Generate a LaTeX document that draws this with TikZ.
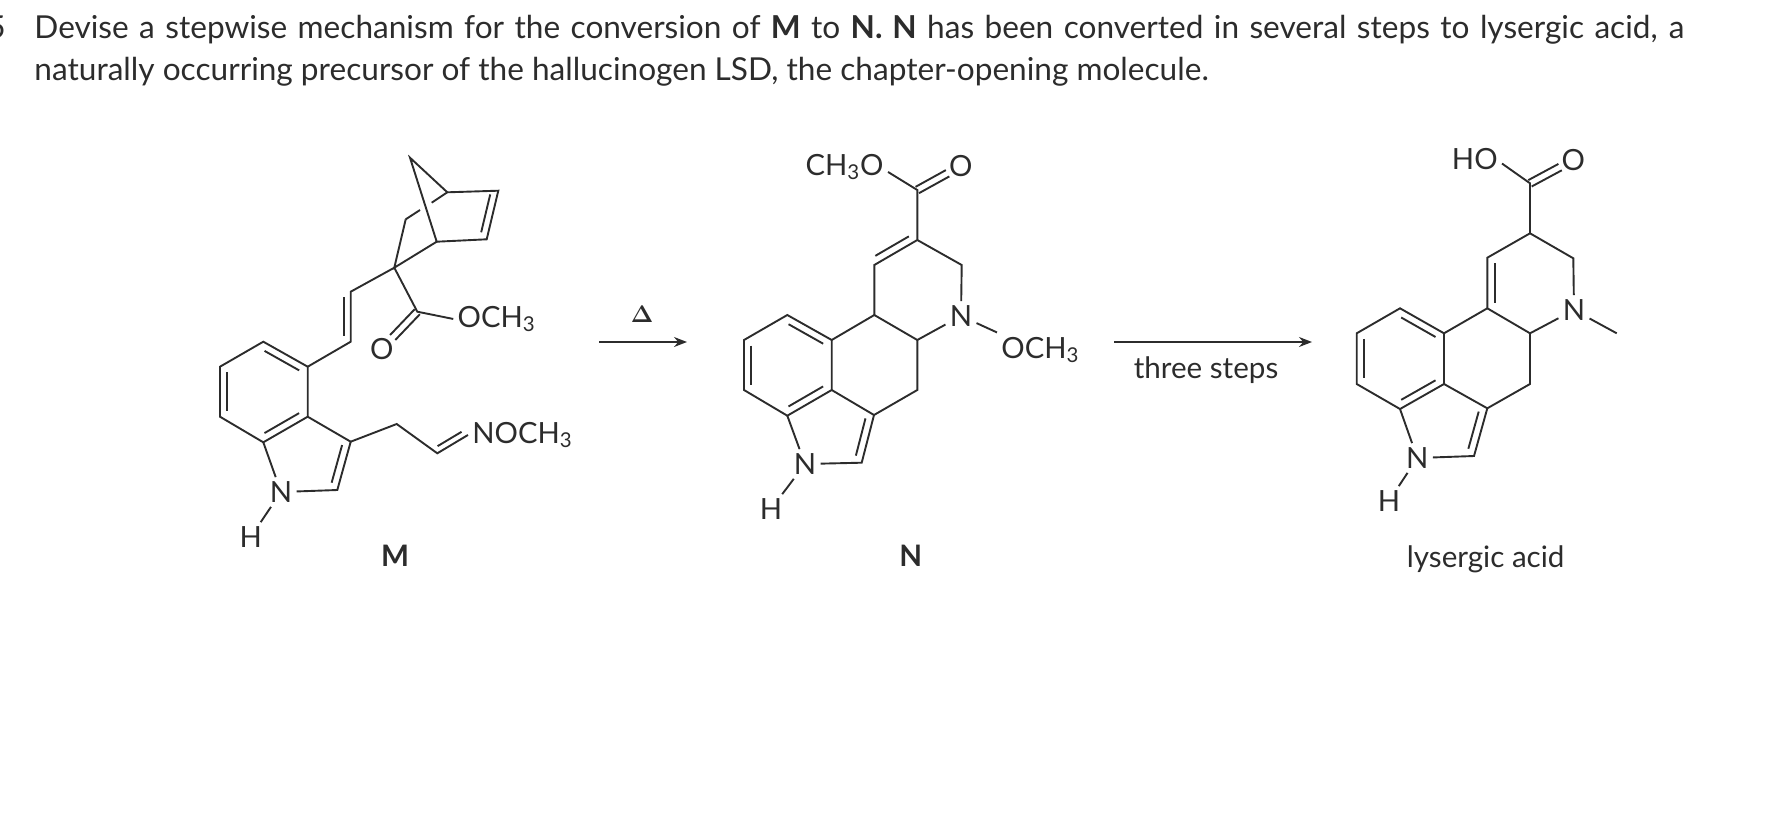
\documentclass[tikz,border=0pt]{standalone}
\usepackage{fontspec}
\usepackage{amsmath}
\setmainfont{Lato}
\usetikzlibrary{calc,arrows.meta}
\definecolor{inkgray}{HTML}{2C2C2C}
\newcommand{\innerbond}[3]{\draw [bond] ($($(#1)!.11!(#2)$)!#3!90:(#2)$) -- ($($(#1)!.89!(#2)$)!#3!90:(#2)$);}
\newcommand{\twobond}[3]{
\draw [bond,shorten >=#3] ($(#1)!1.8pt!90:(#2)$) -- ($(#2)!1.8pt!-90:(#1)$);
\draw [bond,shorten >=#3] ($(#1)!1.8pt!-90:(#2)$) -- ($(#2)!1.8pt!90:(#1)$);}
\tikzset{
bond/.style={draw=inkgray,line width=0.95pt},
atom/.style={inner sep=2pt,text=inkgray,font=\fontsize{14.6}{16}\selectfont},
label/.style={inner sep=0pt,text=inkgray,font=\fontsize{14.8}{16}\selectfont},
rxn/.style={draw=inkgray,line width=0.7pt,-{Stealth[length=6.5pt,width=5pt]}},
}
\begin{document}
\begin{tikzpicture}[x=0.5pt,y=-0.5pt]
\useasboundingbox (0,0) rectangle (1766,814);
\tikzset{every node/.append style={inner sep=0pt}}
% question text
\node [label,anchor=base east] (qnum) at (6,38) {\fontsize{15.8}{20}\selectfont 5};
\node [label,anchor=base west] (qone) at (34,38) {\fontsize{15.8}{20}\selectfont\hbox to 825pt{Devise a stepwise mechanism for the conversion of \textbf{M} to \textbf{N. N} has been converted in several steps to lysergic acid, a}};
\node [label,anchor=base west] (qtwo) at (34,80) {\fontsize{15.8}{20}\selectfont naturally occurring precursor of the hallucinogen LSD, the chapter-opening molecule.};
% molecule M
\coordinate (ma1) at (410,157.7);
\coordinate (ma2) at (447.3,192.3);
\coordinate (ma3) at (498.3,190.7);
\coordinate (ma4) at (486.7,239.3);
\coordinate (ma5) at (436.7,241.7);
\coordinate (ma6) at (394.3,267.7);
\coordinate (ma7) at (405.7,219.3);
\coordinate (mgapa) at (420,210);
\coordinate (mgapb) at (431.7,202.7);
\coordinate (mv1) at (350.7,291.7);
\coordinate (mv2) at (350.7,341.7);
\coordinate (mc) at (417.3,311.7);
\coordinate (mr1) at (307.7,366.7);
\coordinate (mr2) at (263.3,341.7);
\coordinate (mr3) at (220,366.7);
\coordinate (mr4) at (220,416.7);
\coordinate (mr5) at (263.3,442.3);
\coordinate (mr6) at (307.7,416.7);
\coordinate (mp3) at (350.7,441.7);
\coordinate (mp2) at (337.3,490);
\coordinate (mch2) at (396.7,424);
\coordinate (mch) at (437.3,453.3);
\node [atom] (mo) at (381.7,349) {O};
\node [atom,anchor=base west] (moch) at (453.3,327) {OCH\textsubscript{3}};
\node [atom,anchor=base west] (mnoch) at (468,443) {NOCH\textsubscript{3}};
\node [atom] (mn) at (281,492) {N};
\node [atom] (mh) at (250.7,537) {H};
\node [label] (mlabel) at (395,556) {\textbf{M}};
\draw [bond] (ma7) -- (mgapa);
\draw [bond] (mgapb) -- (ma2) -- (ma1) -- (ma5) -- (ma6) -- (ma7);
\draw [bond] (ma2) -- (ma3) -- (ma4) -- (ma5);
\innerbond{ma3}{ma4}{-3.5pt}
\draw [bond] (ma6) -- (mv1) -- (mv2) -- (mr1);
\innerbond{mv1}{mv2}{-3.5pt}
\draw [bond] (ma6) -- (mc) -- (moch.west);
\twobond{mc}{mo}{8pt}
\draw [bond] (mr1) -- (mr2) -- (mr3) -- (mr4) -- (mr5) -- (mr6) -- cycle;
\innerbond{mr1}{mr2}{3.7pt}
\innerbond{mr3}{mr4}{3.7pt}
\innerbond{mr5}{mr6}{3.7pt}
\draw [bond] (mr6) -- (mp3) -- (mp2) -- (mn) -- (mr5);
\innerbond{mp3}{mp2}{-3.7pt}
\draw [bond] (mn) -- (mh);
\draw [bond] (mp3) -- (mch2) -- (mch) -- (mnoch.west);
\innerbond{mch}{mnoch.west}{3pt}
% first arrow
\coordinate (aone) at (599,342);
\coordinate (bone) at (687,342);
\draw [rxn] (aone) -- (bone);
\node [label] (heat) at (642,314) {\fontsize{13}{16}\selectfont $\boldsymbol{\Delta}$};
% molecule N
\coordinate (nc) at (917.3,190);
\coordinate (nb1) at (917.3,240);
\coordinate (nb2) at (874.3,265);
\coordinate (nb3) at (874.3,315);
\coordinate (nb4) at (917.3,340);
\coordinate (nb5) at (961.7,265);
\coordinate (nr1) at (831.7,340);
\coordinate (nr2) at (787.3,315);
\coordinate (nr3) at (744,340);
\coordinate (nr4) at (744,390);
\coordinate (nr5) at (787.3,415.7);
\coordinate (nr6) at (831.7,390);
\coordinate (np3) at (874,415);
\coordinate (np2) at (861.7,462.7);
\coordinate (nch2) at (917.3,390);
\node [atom,anchor=base east] (nmeo) at (888,175) {CH\textsubscript{3}O};
\node [atom] (no) at (960.7,166) {O};
\node [atom] (nn) at (961,316) {N};
\node [atom,anchor=base west] (noch) at (997,358) {OCH\textsubscript{3}};
\node [atom] (nnh) at (805,464) {N};
\node [atom] (nh) at (771,509) {H};
\node [label] (nlabel) at (910.7,556) {\textbf{N}};
\draw [bond] ([yshift=-2.5pt]nmeo.east) -- (nc) -- (nb1) -- (nb2) -- (nb3) -- (nb4) -- (nn) -- (nb5) -- (nb1);
\twobond{nc}{no}{7.5pt}
\innerbond{nb1}{nb2}{-3.7pt}
\draw [bond] (nn) -- (noch.north west);
\draw [bond] (nb3) -- (nr1);
\draw [bond] (nr1) -- (nr2) -- (nr3) -- (nr4) -- (nr5) -- (nr6) -- cycle;
\innerbond{nr1}{nr2}{3.7pt}
\innerbond{nr3}{nr4}{3.7pt}
\innerbond{nr5}{nr6}{3.7pt}
\draw [bond] (nr6) -- (np3) -- (nch2) -- (nb4);
\draw [bond] (np3) -- (np2) -- (nnh) -- (nr5);
\innerbond{np3}{np2}{-3.7pt}
\draw [bond] (nnh) -- (nh);
% second arrow
\coordinate (atwo) at (1114,342);
\coordinate (btwo) at (1312,342);
\draw [rxn] (atwo) -- (btwo);
\node [label] (steps) at (1206,370) {three steps};
% lysergic acid
\coordinate (lc) at (1530,183.3);
\coordinate (lb1) at (1530,233.3);
\coordinate (lb2) at (1487.3,257.7);
\coordinate (lb3) at (1487.3,308.3);
\coordinate (lb4) at (1530,333.3);
\coordinate (lb5) at (1573.3,258.3);
\coordinate (lme) at (1616.7,333.3);
\coordinate (lr1) at (1444,333.3);
\coordinate (lr2) at (1400,308.3);
\coordinate (lr3) at (1356.7,333.3);
\coordinate (lr4) at (1356.7,384);
\coordinate (lr5) at (1400,409);
\coordinate (lr6) at (1444,384);
\coordinate (lp3) at (1487.3,408.3);
\coordinate (lp2) at (1474,456);
\coordinate (lch2) at (1530,384);
\node [atom,anchor=base east] (lho) at (1502,169) {HO};
\node [atom] (lo) at (1573.3,160) {O};
\node [atom] (ln) at (1574,310) {N};
\node [atom] (lnh) at (1417.3,458) {N};
\node [atom] (lh) at (1389,501) {H};
\node [label] (llabel) at (1485.7,559) {lysergic acid};
\draw [bond] ([yshift=-2.5pt]lho.east) -- (lc) -- (lb1) -- (lb2) -- (lb3) -- (lb4) -- (ln) -- (lb5) -- (lb1);
\twobond{lc}{lo}{7.5pt}
\innerbond{lb2}{lb3}{3.7pt}
\draw [bond] (ln) -- (lme);
\draw [bond] (lb3) -- (lr1);
\draw [bond] (lr1) -- (lr2) -- (lr3) -- (lr4) -- (lr5) -- (lr6) -- cycle;
\innerbond{lr1}{lr2}{3.7pt}
\innerbond{lr3}{lr4}{3.7pt}
\innerbond{lr5}{lr6}{3.7pt}
\draw [bond] (lr6) -- (lp3) -- (lch2) -- (lb4);
\draw [bond] (lp3) -- (lp2) -- (lnh) -- (lr5);
\innerbond{lp3}{lp2}{-3.7pt}
\draw [bond] (lnh) -- (lh);
\end{tikzpicture}
\end{document}
